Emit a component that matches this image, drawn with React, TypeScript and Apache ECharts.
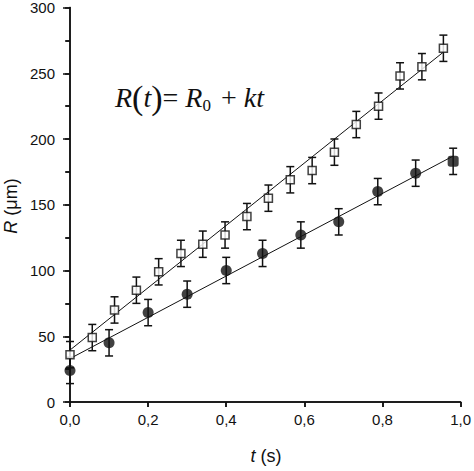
import React, { useEffect, useRef } from "react";
import * as echarts from "echarts";

// Open squares: time (s) and radius (µm)
const squareT = [0, 0.057, 0.114, 0.17, 0.227, 0.284, 0.34, 0.397, 0.453, 0.508, 0.564, 0.62, 0.677, 0.733, 0.79, 0.845, 0.901, 0.956];
const squareR = [36, 49, 70, 85, 99, 113, 120, 127, 141, 155, 169, 176, 190, 211, 225, 248, 255, 269];

// Filled circles: time (s) and radius (µm)
const circleT = [0, 0.1, 0.2, 0.3, 0.4, 0.493, 0.591, 0.688, 0.788, 0.885, 0.981];
const circleR = [24, 45, 68, 82, 100, 113, 127, 137, 160, 174, 183];

// Symmetric error (µm) on every point
const errorR = 10;

// Linear fits R(t) = R0 + k t
const squareFit = { r0: 39.5, k: 237, tEnd: 0.956 };
const circleFit = { r0: 33, k: 157, tEnd: 0.981 };

const xTicks = [0, 0.2, 0.4, 0.6, 0.8, 1.0];

const INK = "#111";
const SANS = "Liberation Sans, Arial, sans-serif";
const SERIF = "Liberation Serif, Times New Roman, serif";

function errorData(ts: number[], rs: number[]) {
  return ts.map((t, i) => [t, rs[i] - errorR, rs[i] + errorR]);
}

function fitLine(fit: { r0: number; k: number; tEnd: number }) {
  return [
    [0, fit.r0],
    [fit.tEnd, fit.r0 + fit.k * fit.tEnd],
  ];
}

function renderErrorBar(params: any, api: any) {
  const t = api.value(0);
  const lo = api.coord([t, api.value(1)]);
  const hi = api.coord([t, api.value(2)]);
  const hw = 4;
  const style = { stroke: INK, lineWidth: 1.5 };
  return {
    type: "group",
    children: [
      { type: "line", shape: { x1: lo[0], y1: lo[1], x2: hi[0], y2: hi[1] }, style },
      { type: "line", shape: { x1: lo[0] - hw, y1: lo[1], x2: lo[0] + hw, y2: lo[1] }, style },
      { type: "line", shape: { x1: hi[0] - hw, y1: hi[1], x2: hi[0] + hw, y2: hi[1] }, style },
    ],
  };
}

export default function App() {
  const ref = useRef<HTMLDivElement>(null);

  useEffect(() => {
    if (!ref.current) return;
    const chart = echarts.init(ref.current, null, { renderer: "svg" });

    const axisLine = { show: true, lineStyle: { color: INK, width: 1.5 } };

    const option: any = {
      animation: false,
      backgroundColor: "#fff",
      grid: { left: 70, right: 11, top: 7, bottom: 69, containLabel: false },
      xAxis: [
        {
          type: "value",
          position: "bottom",
          min: 0,
          max: 1,
          interval: 0.2,
          axisLine,
          axisTick: { show: true, inside: false, length: 5, lineStyle: { color: INK, width: 1.5 } },
          axisLabel: {
            margin: 10,
            color: INK,
            fontFamily: SANS,
            fontSize: 15,
            formatter: (v: number) => v.toFixed(1).replace(".", ","),
            customValues: xTicks,
          },
          splitLine: { show: false },
        },
        {
          type: "value",
          position: "top",
          min: 0,
          max: 1,
          interval: 0.2,
          axisLine,
          axisTick: { show: true, inside: true, length: 5, lineStyle: { color: INK, width: 1.5 } },
          axisLabel: { show: false },
          splitLine: { show: false },
        },
      ],
      yAxis: [
        {
          type: "value",
          position: "left",
          min: 0,
          max: 300,
          interval: 50,
          axisLine,
          axisTick: { show: true, inside: false, length: 7, lineStyle: { color: INK, width: 1.5 } },
          minorTick: { show: true, splitNumber: 2, length: 4, lineStyle: { color: INK, width: 1.5 } },
          axisLabel: { margin: 15, color: INK, fontFamily: SANS, fontSize: 15 },
          splitLine: { show: false },
          minorSplitLine: { show: false },
        },
        {
          type: "value",
          position: "right",
          min: 0,
          max: 300,
          interval: 25,
          axisLine,
          axisTick: { show: true, inside: true, length: 5, lineStyle: { color: INK, width: 1.5 } },
          axisLabel: { show: false },
          splitLine: { show: false },
        },
      ],
      series: [
        {
          type: "line",
          data: fitLine(squareFit),
          symbol: "none",
          lineStyle: { color: INK, width: 1 },
          z: 1,
        },
        {
          type: "line",
          data: fitLine(circleFit),
          symbol: "none",
          lineStyle: { color: INK, width: 1 },
          z: 1,
        },
        {
          type: "custom",
          data: errorData(squareT, squareR),
          renderItem: renderErrorBar,
          clip: false,
          z: 2,
        },
        {
          type: "custom",
          data: errorData(circleT, circleR),
          renderItem: renderErrorBar,
          clip: false,
          z: 2,
        },
        {
          type: "scatter",
          data: squareT.map((t, i) => [t, squareR[i]]),
          symbol: "rect",
          symbolSize: 8,
          itemStyle: { color: "#fff", borderColor: INK, borderWidth: 1.5 },
          clip: false,
          z: 3,
        },
        {
          type: "scatter",
          data: circleT.map((t, i) =>
            i === circleT.length - 1
              ? { value: [t, circleR[i]], symbol: "roundRect" }
              : [t, circleR[i]]
          ),
          symbol: "circle",
          symbolSize: 11,
          itemStyle: { color: INK },
          clip: false,
          z: 3,
        },
      ],
      graphic: [
        {
          type: "text",
          x: 115,
          y: 97,
          style: {
            text: "{i|R}{p|(}{i|t}{p|)}{n|= }{i|R}{s|0}{n| + }{i|kt}",
            verticalAlign: "middle",
            align: "left",
            rich: {
              i: { fontFamily: SERIF, fontStyle: "italic", fontSize: 28, fill: INK },
              p: { fontFamily: SERIF, fontSize: 34, fill: INK },
              n: { fontFamily: SERIF, fontSize: 28, fill: INK },
              s: { fontFamily: SERIF, fontSize: 17, fill: INK, verticalAlign: "bottom", padding: [0, 3, 0, 0] },
            },
          },
        },
        {
          type: "text",
          x: 11,
          y: 206,
          rotation: Math.PI / 2,
          style: {
            text: "{i|R} (μm)",
            align: "center",
            verticalAlign: "middle",
            fontFamily: SANS,
            fontSize: 18,
            fill: INK,
            rich: { i: { fontFamily: SANS, fontStyle: "italic", fontSize: 18, fill: INK } },
          },
        },
        {
          type: "text",
          x: 266,
          y: 456,
          style: {
            text: "{i|t} (s)",
            align: "center",
            verticalAlign: "middle",
            fontFamily: SANS,
            fontSize: 18,
            fill: INK,
            rich: { i: { fontFamily: SANS, fontStyle: "italic", fontSize: 18, fill: INK } },
          },
        },
      ],
    };

    chart.setOption(option);
    return () => chart.dispose();
  }, []);

  return (
    <div
      ref={ref}
      style={{ position: "fixed", left: 0, top: 0, width: 474, height: 471, background: "#fff" }}
    />
  );
}
